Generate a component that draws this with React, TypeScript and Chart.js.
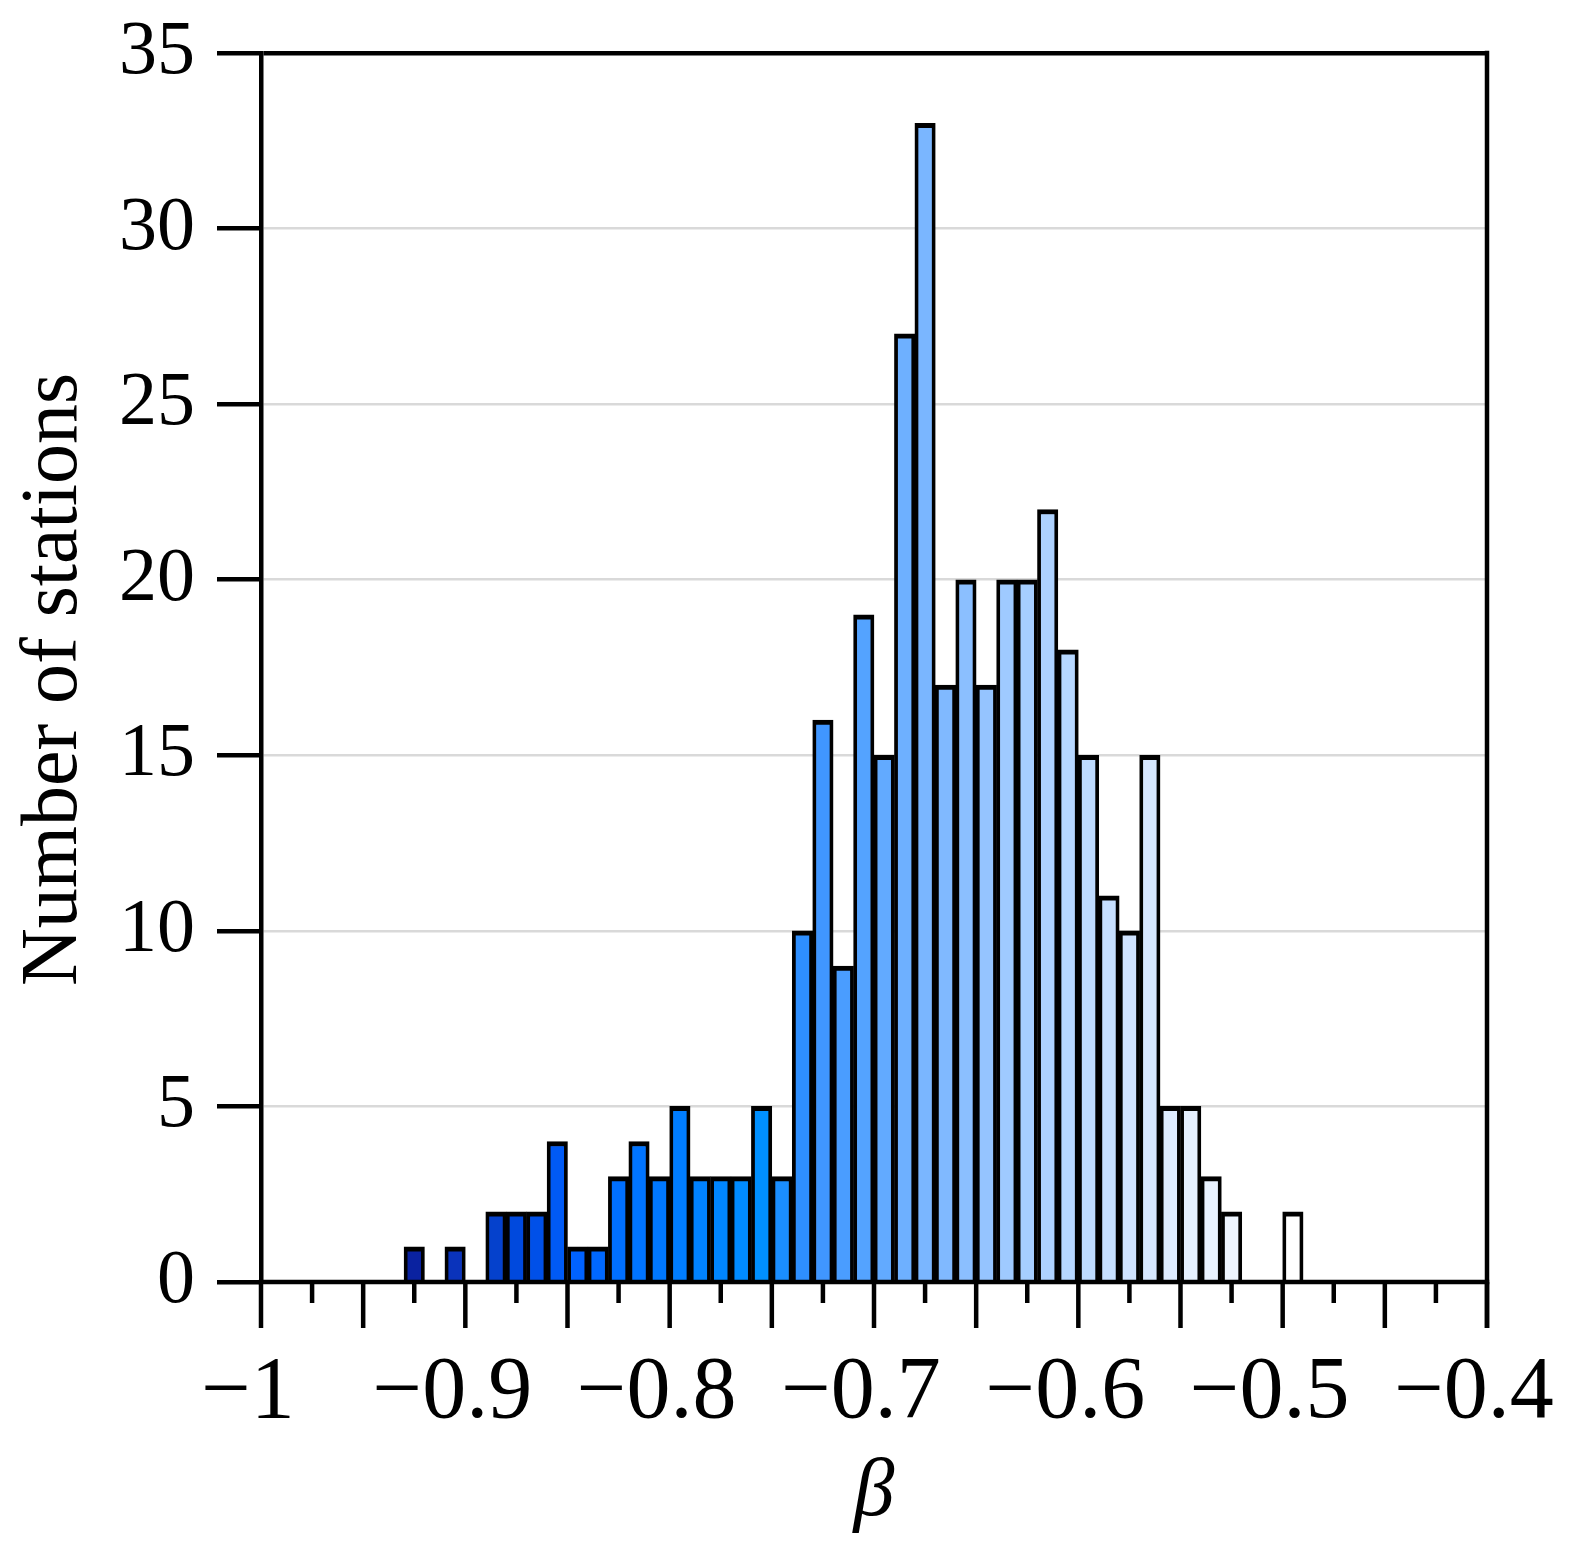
import { useEffect, useRef } from 'react';
import { Chart, registerables } from 'chart.js';

Chart.register(...registerables);

// Histogram bins: width 0.01 starting at -1.00
const BIN_START = -1.0;
const BIN_WIDTH = 0.01;

// Number of stations per bin (bin i covers [-1 + 0.01 i, -1 + 0.01 (i+1)) )
const counts = [
  0, 0, 0, 0, 0, 0, 0, 1, 0, 1,
  0, 2, 2, 2, 4, 1, 1, 3, 4, 3,
  5, 3, 3, 3, 5, 3, 10, 16, 9, 19,
  15, 27, 33, 17, 20, 17, 20, 20, 22, 18,
  15, 11, 10, 15, 5, 5, 3, 2, 0, 0,
  2, 0, 0, 0, 0, 0, 0, 0, 0, 0,
];

const NONE = 'rgba(0,0,0,0)';
const barColors = [
  NONE, NONE, NONE, NONE, NONE, NONE, NONE, '#0a22a0', NONE, '#0a33bb',
  NONE, '#0541cc', '#0049dd', '#0050e8', '#005af5', '#0062ff', '#0068ff', '#006fff', '#0074ff', '#0078ff',
  '#007dff', '#0082ff', '#0086ff', '#008bff', '#0090ff', '#1a8eff', '#2e8fff', '#4096ff', '#4a9dff', '#54a3ff',
  '#62aaff', '#6eb0ff', '#7ab6ff', '#80b9ff', '#8bbfff', '#95c4ff', '#9fcaff', '#a6ceff', '#aed2ff', '#b6d7ff',
  '#bedbff', '#c6dfff', '#cfe3ff', '#d6e7ff', '#ddebff', '#e5f0ff', '#e9f2ff', '#eef5ff', NONE, NONE,
  '#ffffff', NONE, NONE, NONE, NONE, NONE, NONE, NONE, NONE, NONE,
];

const X_MIN = -1;
const X_MAX = -0.4;
const X_TICK_STEP = 0.1;
const X_MINOR_STEP = 0.025;
const Y_MIN = 0;
const Y_MAX = 35;
const Y_TICK_STEP = 5;

const Y_TITLE = 'Number of stations';
const X_TITLE = 'β';

const FONT = "'Liberation Serif', 'Times New Roman', serif";

const framePlugin = {
  id: 'frame',
  afterDatasetsDraw(chart: any) {
    const { ctx, chartArea, scales } = chart;
    const xs = scales.x;
    const ys = scales.y;
    const y0 = ys.getPixelForValue(0);
    ctx.save();
    ctx.strokeStyle = '#000';
    ctx.lineCap = 'butt';
    ctx.lineWidth = 4.5;
    const n = Math.round((X_MAX - X_MIN) / X_MINOR_STEP);
    for (let k = 0; k <= n; k++) {
      const v = X_MIN + k * X_MINOR_STEP;
      const px = xs.getPixelForValue(v);
      const len = k % 2 === 0 ? 46 : 21;
      ctx.beginPath();
      ctx.moveTo(px, y0);
      ctx.lineTo(px, y0 + len);
      ctx.stroke();
    }
    ctx.beginPath();
    ctx.moveTo(chartArea.left - 2.25, y0);
    ctx.lineTo(chartArea.right + 2.25, y0);
    ctx.stroke();
    ctx.beginPath();
    ctx.moveTo(chartArea.right, chartArea.top - 2.25);
    ctx.lineTo(chartArea.right, y0 + 46);
    ctx.stroke();

    // y-axis title
    ctx.fillStyle = '#000';
    ctx.font = `80px ${FONT}`;
    ctx.textAlign = 'center';
    ctx.textBaseline = 'middle';
    ctx.translate(55, (chartArea.top + chartArea.bottom) / 2 + 12);
    ctx.rotate(-Math.PI / 2);
    ctx.fillText(Y_TITLE, 0, 0);
    ctx.restore();
  },
};

export default function App() {
  const ref = useRef<HTMLCanvasElement | null>(null);

  useEffect(() => {
    if (!ref.current) return;
    const data = counts.map((c, i) => ({ x: BIN_START + (i + 0.5) * BIN_WIDTH, y: c }));
    const chart = new Chart(ref.current, {
      type: 'bar',
      data: {
        datasets: [
          {
            data,
            backgroundColor: barColors,
            borderColor: '#000',
            borderWidth: { top: 5, left: 3.8, right: 3.8, bottom: 0 },
            borderSkipped: 'start',
            barPercentage: 1,
            categoryPercentage: 1,
          } as any,
        ],
      },
      options: {
        responsive: false,
        maintainAspectRatio: false,
        devicePixelRatio: 1,
        animation: false,
        layout: { padding: { top: 53, right: 101, left: 0, bottom: 0 } },
        plugins: {
          legend: { display: false },
          tooltip: { enabled: false },
        },
        scales: {
          x: {
            type: 'linear',
            min: X_MIN,
            max: X_MAX,
            offset: false,
            grid: { display: false, drawTicks: false, offset: false },
            border: { display: false },
            ticks: {
              stepSize: X_TICK_STEP,
              autoSkip: false,
              maxRotation: 0,
              color: '#000',
              padding: 59,
              labelOffset: -13,
              font: { family: FONT, size: 88 },
              callback: (v: any) => {
                const a = Math.round(Math.abs(Number(v)) * 10) / 10;
                return '\u2212' + String(a);
              },
            },
            title: {
              display: true,
              text: X_TITLE,
              color: '#000',
              font: { family: FONT, size: 82, style: 'italic' },
              padding: { top: 0, bottom: 7 },
            },
            afterFit: (scale: any) => {
              scale.height = 268;
              scale.paddingLeft = 0;
              scale.paddingRight = 0;
            },
          },
          y: {
            type: 'linear',
            min: Y_MIN,
            max: Y_MAX,
            grid: {
              color: (c: any) => (c.tick && c.tick.value === Y_MAX ? '#000' : '#d9d9d9'),
              lineWidth: (c: any) => (c.tick && c.tick.value === Y_MAX ? 4.5 : 2.5),
              tickColor: '#000',
              tickWidth: 4.5,
              tickLength: 44,
            },
            border: { display: true, color: '#000', width: 4.5 },
            ticks: {
              stepSize: Y_TICK_STEP,
              color: '#000',
              padding: 22,
              font: { family: FONT, size: 76 },
            },
            afterFit: (scale: any) => {
              scale.width = 261;
              scale.paddingTop = 0;
              scale.paddingBottom = 0;
            },
          },
        },
      },
      plugins: [framePlugin],
    });
    return () => chart.destroy();
  }, []);

  return (
    <div style={{ position: 'absolute', left: 0, top: 0, width: 1588, height: 1550, background: '#fff' }}>
      <canvas ref={ref} width={1588} height={1550} style={{ display: 'block' }} />
    </div>
  );
}
